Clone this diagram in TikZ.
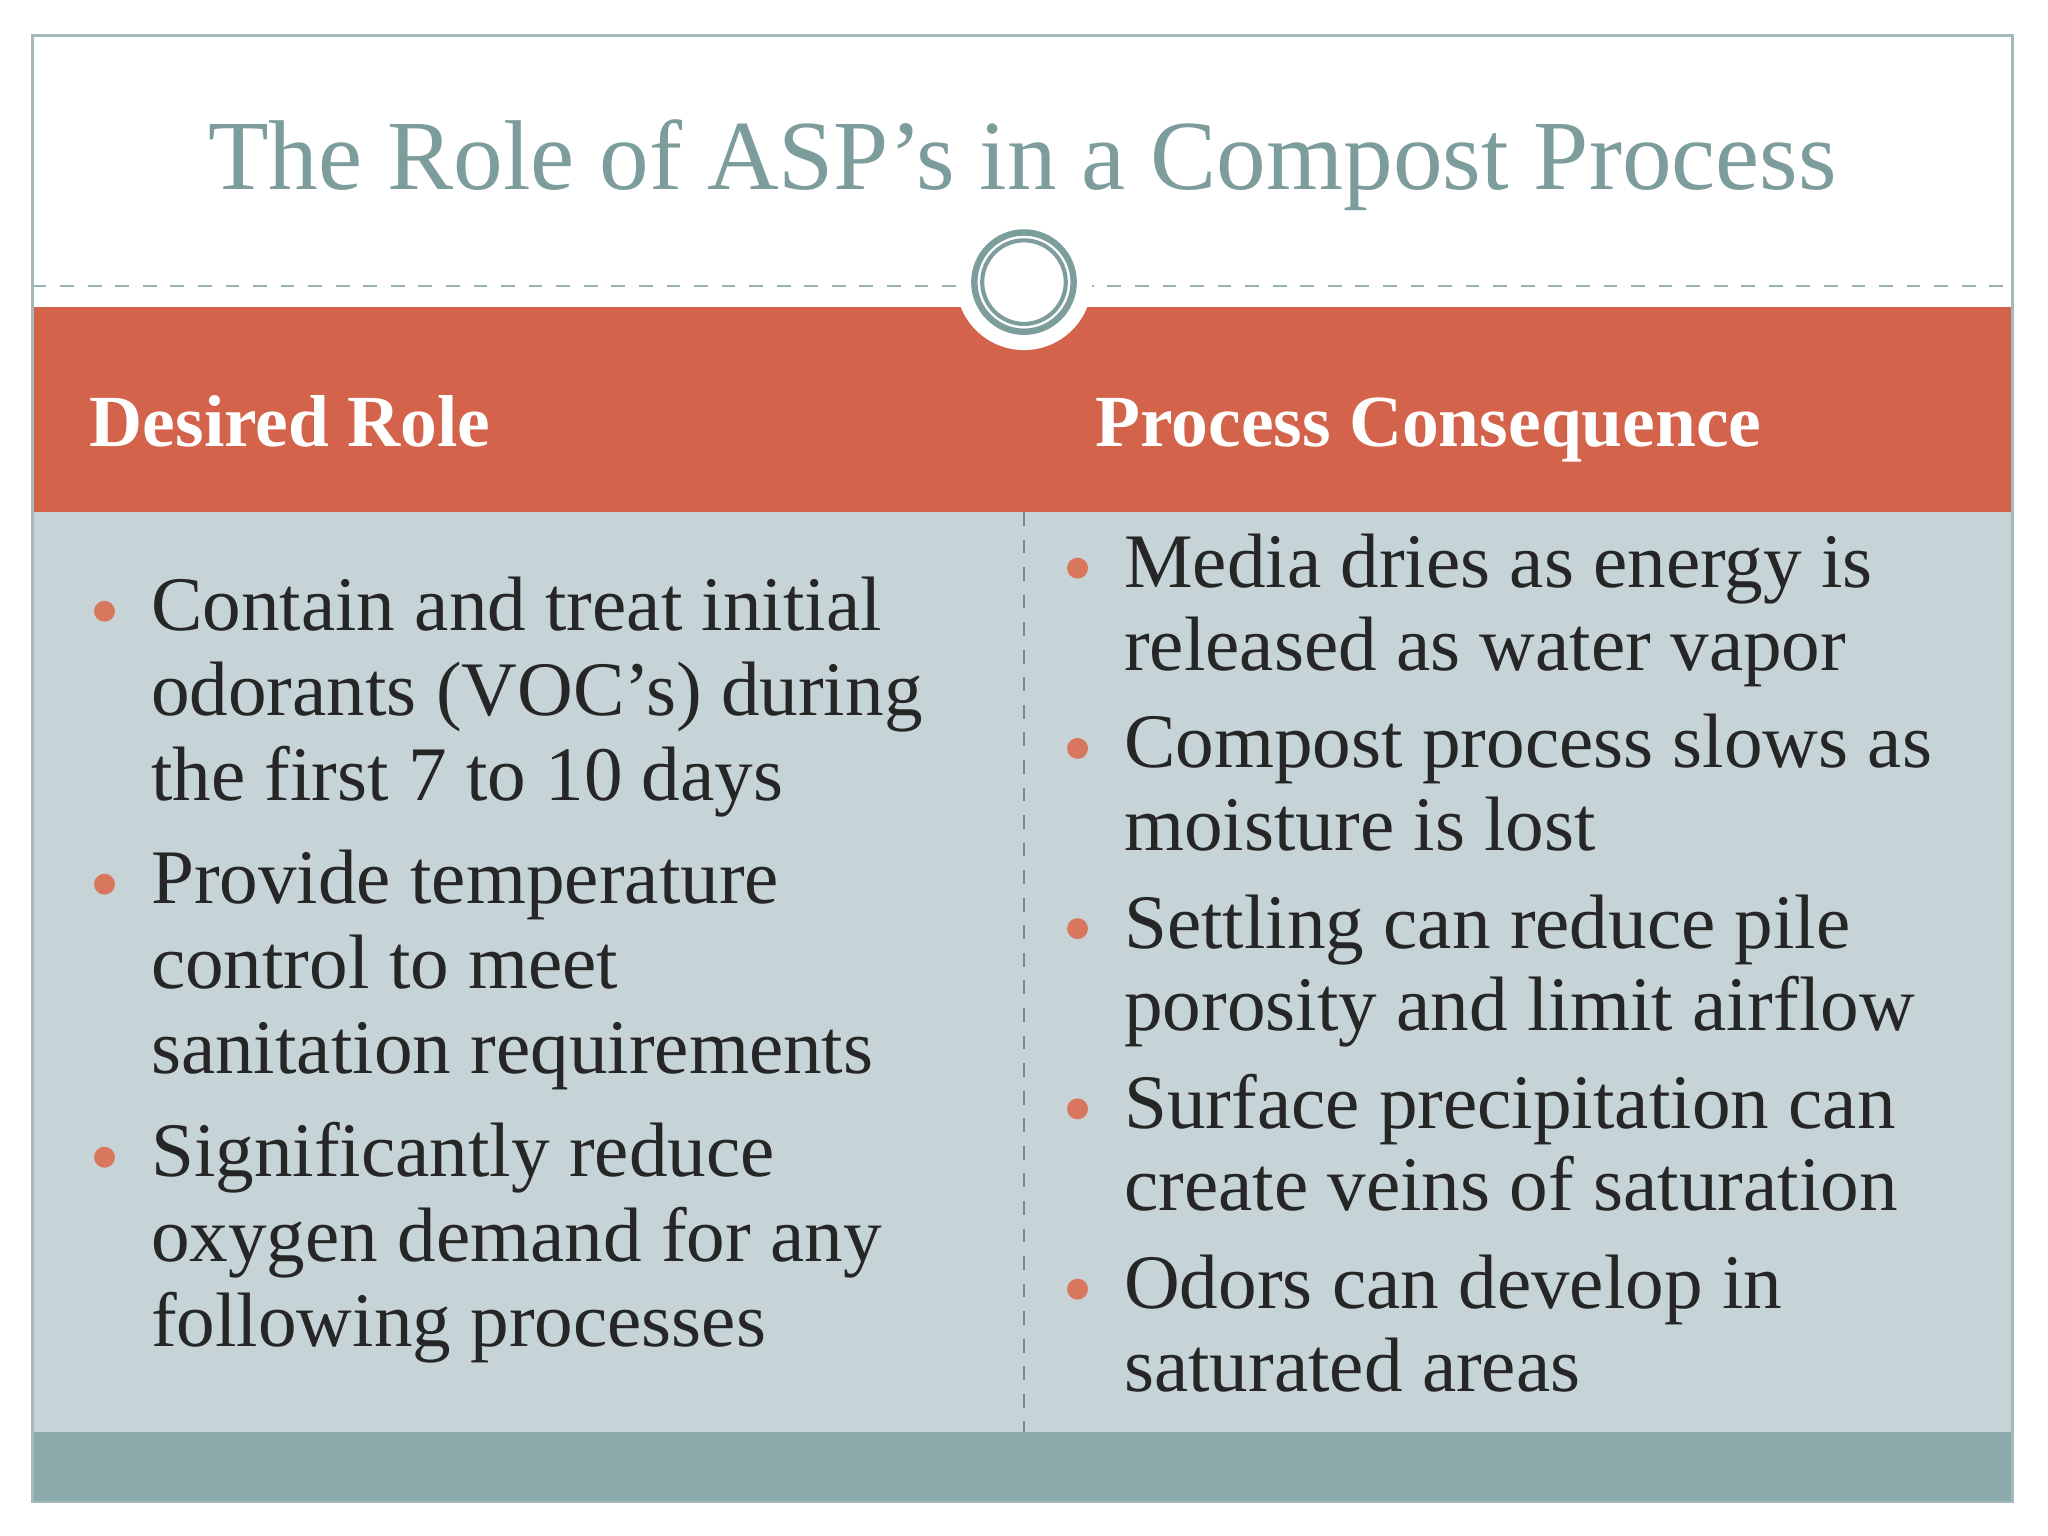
\documentclass[tikz,border=0pt]{standalone}
\usepackage{fontspec}
\setmainfont{Liberation Serif}
\begin{document}
\begin{tikzpicture}[x=0.01cm,y=-0.01cm,
  body/.style={anchor=base west,inner sep=0,text=black!85,font=\fontsize{16.8}{20}\selectfont},
  dot/.style={circle,fill=bul,inner sep=0,minimum size=0.16cm},
  hdr/.style={anchor=base west,inner sep=0,text=white,font=\fontsize{16}{18}\selectfont\bfseries}]
\definecolor{bul}{HTML}{D9765E}
\definecolor{band}{HTML}{D3634A}
\definecolor{pale}{HTML}{C6D4D7}
\definecolor{teal}{HTML}{7D9D9C}
\definecolor{foot}{HTML}{8AAAAB}
\useasboundingbox (0,0) rectangle (1568,1176);
\fill[white] (0,0) rectangle (1568,1176);
\fill[white] (25,27) rectangle (1541,1150);
\fill[band] (25,235) rectangle (1541,392);
\fill[pale] (25,392) rectangle (1541,1096);
\fill[foot] (25,1096) rectangle (1541,1150);
\draw[teal!70,line width=0.6pt] (25,27) rectangle (1541,1150);
\draw[teal!80,dashed,line width=0.5pt] (25,219) -- (1541,219);
\draw[teal!90!black,dashed,line width=0.5pt] (784,392) -- (784,1096);
\node[circle,fill=white,minimum size=1.04cm,inner sep=0] (c) at (784,216) {};
\draw[teal,line width=1.4pt] (c.center) circle[radius=38];
\draw[teal,line width=0.9pt] (c.center) circle[radius=32];
\node[anchor=base,inner sep=0,text=teal,font=\fontsize{21.6}{24}\selectfont] (t) at (783,145) {The Role of ASP’s in a Compost Process};
\node[hdr] (h1) at (68,342) {Desired Role};
\node[hdr] (h2) at (838,342) {Process Consequence};
% left
\foreach \y/\txt in {483/Contain and treat initial,548/odorants (VOC’s) during,613/the first 7 to 10 days,692/Provide temperature,757/control to meet,822/sanitation requirements,901/Significantly reduce,966/oxygen demand for any,1031/following processes}
  \node[body] at (115,\y) {\txt};
\foreach \y in {468,677,886} \node[dot] at (80,\y) {};
% right
\foreach \y/\txt in {450/Media dries as energy is,513/released as water vapor,588/Compost process slows as,651/moisture is lost,726/Settling can reduce pile,789/porosity and limit airflow,864/Surface precipitation can,927/create veins of saturation,1002/Odors can develop in,1065/saturated areas}
  \node[body] at (860,\y) {\txt};
\foreach \y in {435,573,711,849,987} \node[dot] at (825,\y) {};
\end{tikzpicture}
\end{document}
